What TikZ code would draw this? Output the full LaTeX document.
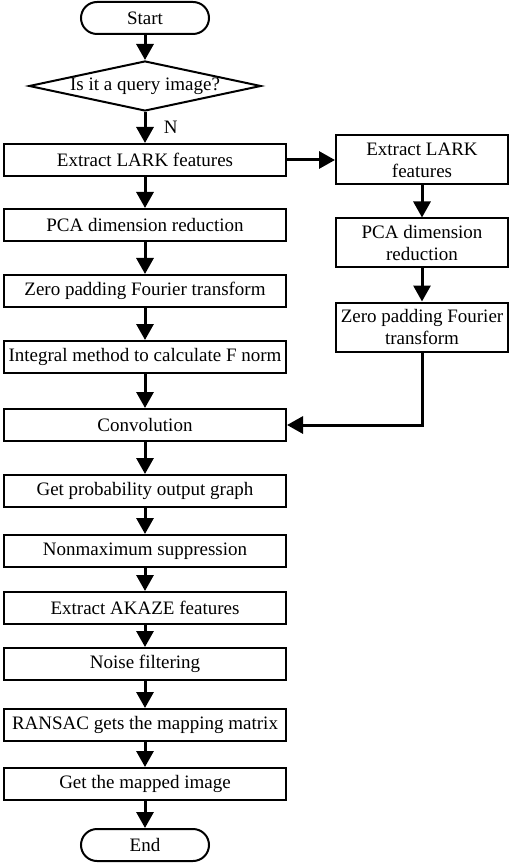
\documentclass[tikz,border=0pt]{standalone}
\usepackage{fontspec}
\setmainfont{Liberation Serif}
\usepackage{tikz}
\usetikzlibrary{shapes.geometric,arrows.meta}

\begin{document}
\begin{tikzpicture}[x=1pt,y=-1pt,
  every node/.style={font=\fontsize{19}{22}\selectfont},
  box/.style={draw,line width=2pt,minimum width=282pt,minimum height=32pt,inner sep=0pt},
  sidebox/.style={draw,line width=2pt,minimum width=172pt,minimum height=49pt,inner sep=0pt,align=center},
  term/.style={draw,line width=2pt,rounded corners=16pt,minimum width=128pt,minimum height=32pt,inner sep=0pt},
  decision/.style={draw,line width=2pt,diamond,aspect=4.64,inner sep=-1pt,minimum width=232pt,minimum height=50pt},
  flow/.style={line width=3pt,-{Triangle[width=17pt,length=16pt]}}]
\useasboundingbox (0,0) rectangle (510,866);
% main column
\node[term] (start) at (145,18) {Start};
\node[decision] (query) at (145,86) {Is it a query image?};
\node[box] (lark) at (145,160) {Extract LARK features};
\node[box] (pca) at (145,225) {PCA dimension reduction};
\node[box] (zero) at (145,291) {Zero padding Fourier transform};
\node[box] (fnorm) at (145,357) {Integral method to calculate F norm};
\node[box] (conv) at (145,425) {Convolution};
\node[box] (prob) at (145,491) {Get probability output graph};
\node[box] (nms) at (145,551) {Nonmaximum suppression};
\node[box] (akaze) at (145,608) {Extract AKAZE features};
\node[box] (noise) at (145,664) {Noise filtering};
\node[box] (ransac) at (145,725) {RANSAC gets the mapping matrix};
\node[box] (mapped) at (145,784) {Get the mapped image};
\node[term] (end) at (145,845) {End};
% template column
\node[sidebox] (tlark) at (422,160) {Extract LARK\\features};
\node[sidebox] (tpca) at (422,243) {PCA dimension\\reduction};
\node[sidebox] (tzero) at (422,327) {Zero padding Fourier\\transform};
% arrows
\draw[flow] (start) -- (query);
\draw[flow] (query) -- node[right=14pt] (no) {N} (lark);
\draw[flow] (lark) -- (pca);
\draw[flow] (pca) -- (zero);
\draw[flow] (zero) -- (fnorm);
\draw[flow] (fnorm) -- (conv);
\draw[flow] (conv) -- (prob);
\draw[flow] (prob) -- (nms);
\draw[flow] (nms) -- (akaze);
\draw[flow] (akaze) -- (noise);
\draw[flow] (noise) -- (ransac);
\draw[flow] (ransac) -- (mapped);
\draw[flow] (mapped) -- (end);
\draw[flow] (lark) -- (tlark);
\draw[flow] (tlark) -- (tpca);
\draw[flow] (tpca) -- (tzero);
\draw[flow] (tzero.south) |- (conv.east);
\end{tikzpicture}
\end{document}
